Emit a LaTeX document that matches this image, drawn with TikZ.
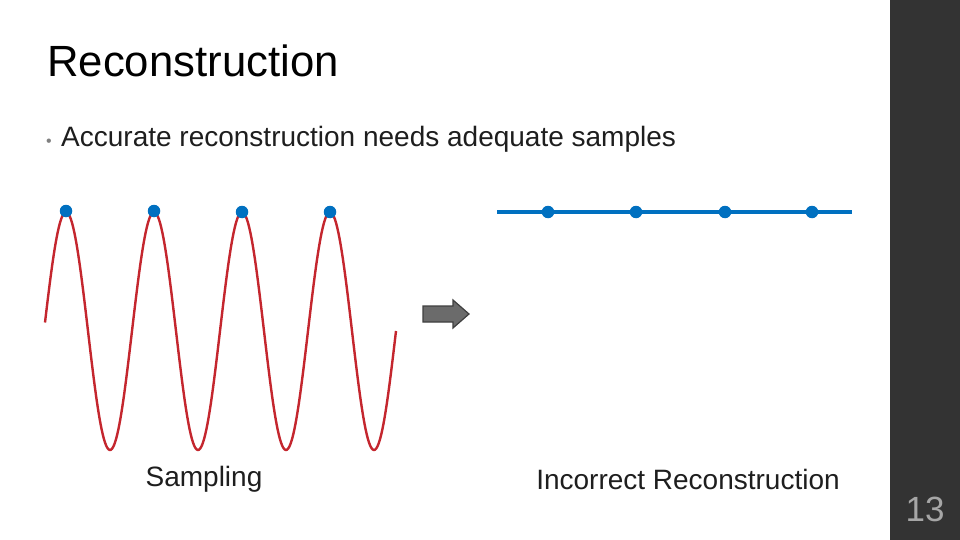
\documentclass[tikz,border=0pt]{standalone}
\usepackage{fontspec}
\setmainfont{Liberation Sans}
\definecolor{wavered}{HTML}{C4262E}
\definecolor{dotblue}{HTML}{0070C0}
\definecolor{sidebar}{HTML}{333333}
\definecolor{numgray}{HTML}{A6A6A6}
\definecolor{arrowfill}{HTML}{6B6B6B}
\definecolor{arrowline}{HTML}{3F3F3F}
\definecolor{txt}{HTML}{1E1E1E}
\tikzset{
  sampledot/.style={circle, fill=dotblue, inner sep=0pt, minimum size=12.5pt},
  wave/.style={wavered, line width=2.4pt},
  flatline/.style={dotblue, line width=4pt},
  label/.style={text=txt, font=\fontsize{28}{32}\selectfont, inner sep=0pt},
  blockarrow/.style={draw=arrowline, fill=arrowfill, line width=1.2pt, line join=miter},
}
\begin{document}
\begin{tikzpicture}[x=1pt,y=-1pt]
\useasboundingbox (0,0) rectangle (960,540);
\fill[white] (0,0) rectangle (960,540);
% sidebar
\fill[sidebar] (890,0) rectangle (960,540);
\node[text=numgray, font=\fontsize{35}{40}\selectfont, inner sep=0pt] (pagenum) at (925,509) {13};
% title
\node[anchor=base west, inner sep=0pt, font=\fontsize{43.7}{50}\selectfont, text=black] (title) at (47,77) {Reconstruction};
\node[anchor=base west, inner sep=0pt, font=\fontsize{16}{18}\selectfont, text=gray] (bullet) at (46,147) {•};
\node[anchor=base west, label] (point) at (61,147) {Accurate reconstruction needs adequate samples};
% sine wave
\draw[wave, domain=45:396, samples=300, smooth] plot (\x, {331-119*cos(4.090909*(\x-66))});
\node[sampledot] (s1) at (66,211) {};
\node[sampledot] (s2) at (154,211) {};
\node[sampledot] (s3) at (242,212) {};
\node[sampledot] (s4) at (330,212) {};
% arrow
\coordinate (arr) at (446,314);
\draw[blockarrow] (423,306) -- (453,306) -- (453,300) -- (469,314) -- (453,328) -- (453,322) -- (423,322) -- cycle;
% reconstruction
\coordinate (l0) at (497,212);
\coordinate (l1) at (852,212);
\draw[flatline] (l0) -- (l1);
\node[sampledot] (r1) at (548,212) {};
\node[sampledot] (r2) at (636,212) {};
\node[sampledot] (r3) at (725,212) {};
\node[sampledot] (r4) at (812,212) {};
% captions
\node[label] (cap1) at (204,479) {Sampling};
\node[label] (cap2) at (688,479) {Incorrect Reconstruction};
\end{tikzpicture}
\end{document}
